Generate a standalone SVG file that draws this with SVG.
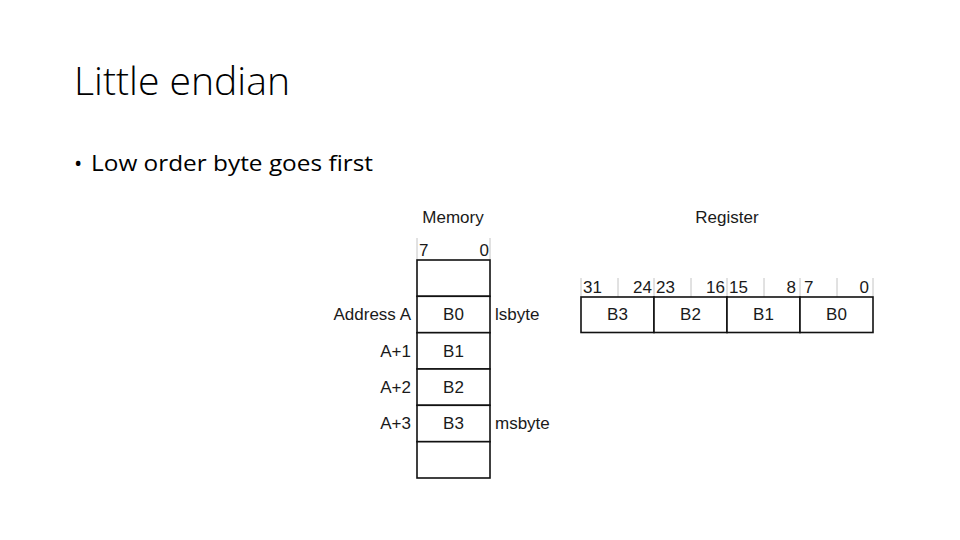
<svg xmlns="http://www.w3.org/2000/svg" width="960" height="540" viewBox="0 0 960 540">
<style>
.lbl{font-family:"Liberation Sans",Arial,sans-serif;font-size:17px;fill:#1a1a1a}
.mid{text-anchor:middle}
.end{text-anchor:end}
.cell{fill:#fff;stroke:#111;stroke-width:1.6}
.tick{stroke:#c4c4c4;stroke-width:1}
.title{font-family:"Open Sans","Liberation Sans",sans-serif;font-weight:300;fill:#000}
.body{font-family:"Open Sans","Liberation Sans",sans-serif;fill:#000}
</style>
<rect width="960" height="540" fill="#fff"/>
<text class="title" x="74" y="95" font-size="38" textLength="216" lengthAdjust="spacingAndGlyphs">Little endian</text>
<text class="body" x="74" y="171" font-size="22">•</text>
<text class="body" x="91" y="171" font-size="22" textLength="282" lengthAdjust="spacingAndGlyphs">Low order byte goes first</text>

<g id="memory">
<text class="lbl mid" x="453" y="223">Memory</text>
<line class="tick" x1="417" y1="238" x2="417" y2="260"/>
<line class="tick" x1="490" y1="238" x2="490" y2="260"/>
<text class="lbl" x="419" y="256">7</text>
<text class="lbl end" x="489" y="256">0</text>
<g id="mem-empty-top"><rect class="cell" x="417" y="260" width="73" height="36.3"/></g>
<g id="mem-b0"><rect class="cell" x="417" y="296.3" width="73" height="36.4"/><text class="lbl mid" x="453.5" y="320">B0</text><text class="lbl end" x="411" y="320">Address A</text><text class="lbl" x="495" y="320">lsbyte</text></g>
<g id="mem-b1"><rect class="cell" x="417" y="332.7" width="73" height="36.3"/><text class="lbl mid" x="453.5" y="357">B1</text><text class="lbl end" x="411" y="357">A+1</text></g>
<g id="mem-b2"><rect class="cell" x="417" y="369" width="73" height="36.3"/><text class="lbl mid" x="453.5" y="393">B2</text><text class="lbl end" x="411" y="393">A+2</text></g>
<g id="mem-b3"><rect class="cell" x="417" y="405.3" width="73" height="36.4"/><text class="lbl mid" x="453.5" y="429">B3</text><text class="lbl end" x="411" y="429">A+3</text><text class="lbl" x="495" y="429">msbyte</text></g>
<g id="mem-empty-bottom"><rect class="cell" x="417" y="441.7" width="73" height="36.3"/></g>
</g>

<g id="register">
<text class="lbl mid" x="727" y="223">Register</text>
<g class="ticks">
<line class="tick" x1="581" y1="278" x2="581" y2="297"/>
<line class="tick" x1="618" y1="278" x2="618" y2="297"/>
<line class="tick" x1="654" y1="278" x2="654" y2="297"/>
<line class="tick" x1="691" y1="278" x2="691" y2="297"/>
<line class="tick" x1="727" y1="278" x2="727" y2="297"/>
<line class="tick" x1="764" y1="278" x2="764" y2="297"/>
<line class="tick" x1="800" y1="278" x2="800" y2="297"/>
<line class="tick" x1="837" y1="278" x2="837" y2="297"/>
<line class="tick" x1="873" y1="278" x2="873" y2="297"/>
</g>
<text class="lbl" x="583" y="293">31</text>
<text class="lbl end" x="652" y="293">24</text>
<text class="lbl" x="656" y="293">23</text>
<text class="lbl end" x="725" y="293">16</text>
<text class="lbl" x="729" y="293">15</text>
<text class="lbl end" x="796" y="293">8</text>
<text class="lbl" x="804" y="293">7</text>
<text class="lbl end" x="869" y="293">0</text>
<g id="reg-b3"><rect class="cell" x="581" y="297" width="73" height="35.5"/><text class="lbl mid" x="617.5" y="320">B3</text></g>
<g id="reg-b2"><rect class="cell" x="654" y="297" width="73" height="35.5"/><text class="lbl mid" x="690.5" y="320">B2</text></g>
<g id="reg-b1"><rect class="cell" x="727" y="297" width="73" height="35.5"/><text class="lbl mid" x="763.5" y="320">B1</text></g>
<g id="reg-b0"><rect class="cell" x="800" y="297" width="73" height="35.5"/><text class="lbl mid" x="836.5" y="320">B0</text></g>
</g>
<g id="connectors"/>
</svg>
